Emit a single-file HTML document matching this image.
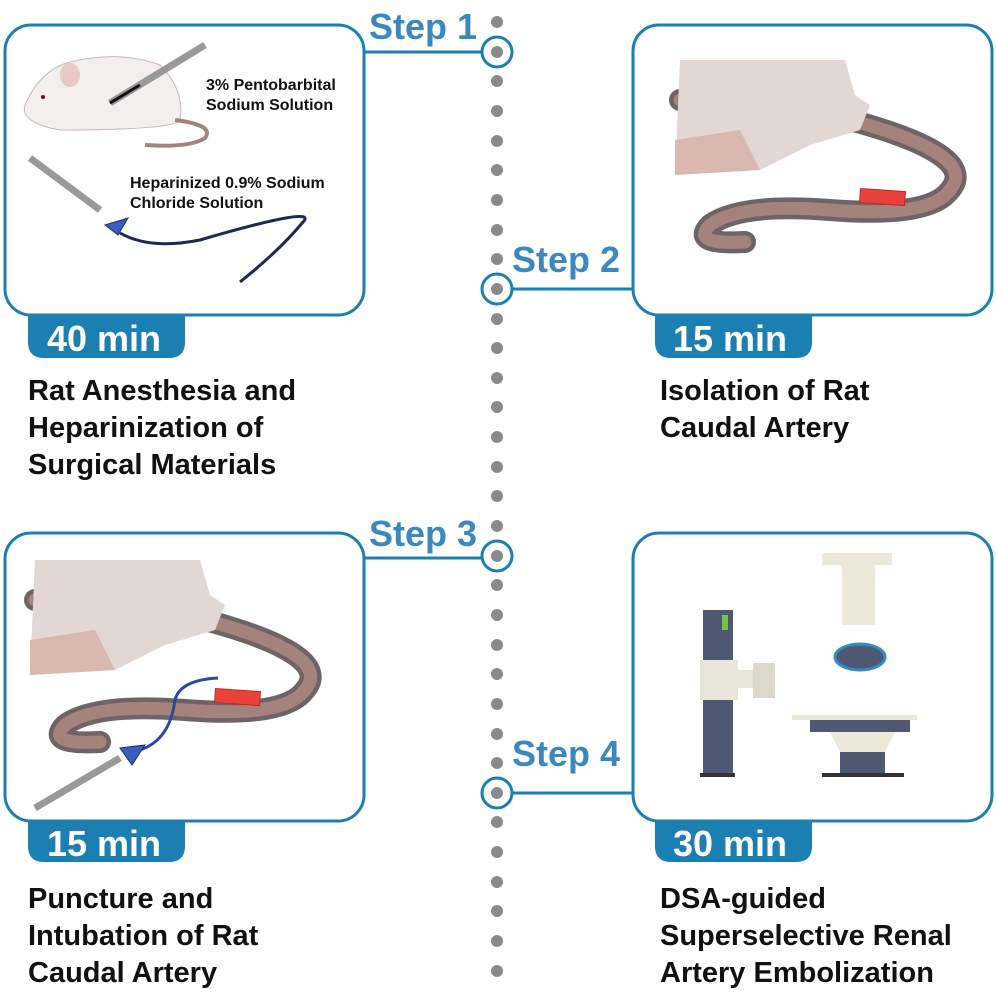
<!DOCTYPE html>
<html><head><meta charset="utf-8"><style>
body{margin:0;background:#fff;}
svg{display:block}
.t{font-family:"Liberation Sans",sans-serif;font-weight:bold}
</style></head><body>
<svg width="996" height="996" viewBox="0 0 996 996" xmlns="http://www.w3.org/2000/svg">
<defs>
<g id="tail">
  <path d="M30,40 L90,38 L95,50 L200,60 Q330,95 300,130 Q280,158 180,150 Q90,143 60,165 Q40,185 95,182" fill="none" stroke="#6e6466" stroke-width="22" stroke-linecap="round"/>
  <path d="M30,40 L90,38 L95,50 L200,60 Q330,95 300,130 Q280,158 180,150 Q90,143 60,165 Q40,185 95,182" fill="none" stroke="#a4837c" stroke-width="13" stroke-linecap="round"/>
  <path d="M30,0 L195,0 L205,35 L220,45 L210,70 L160,85 L110,110 L25,115 Z" fill="#e2d7d2"/>
  <path d="M25,80 L90,70 L110,110 L25,115 Z" fill="#d9b8b0"/>
  <rect x="210" y="130" width="45" height="14" fill="#e8433a" stroke="#c22" transform="rotate(4 232 137)"/>
</g>
</defs>
<g fill="#8a8a8a">
<circle cx="497" cy="22" r="6"/><circle cx="497" cy="52" r="6"/><circle cx="497" cy="81" r="6"/><circle cx="497" cy="111" r="6"/><circle cx="497" cy="141" r="6"/><circle cx="497" cy="170" r="6"/><circle cx="497" cy="200" r="6"/><circle cx="497" cy="230" r="6"/><circle cx="497" cy="259" r="6"/><circle cx="497" cy="289" r="6"/><circle cx="497" cy="319" r="6"/><circle cx="497" cy="348" r="6"/><circle cx="497" cy="378" r="6"/><circle cx="497" cy="407" r="6"/><circle cx="497" cy="437" r="6"/><circle cx="497" cy="467" r="6"/><circle cx="497" cy="496" r="6"/><circle cx="497" cy="526" r="6"/><circle cx="497" cy="556" r="6"/><circle cx="497" cy="585" r="6"/><circle cx="497" cy="615" r="6"/><circle cx="497" cy="645" r="6"/><circle cx="497" cy="674" r="6"/><circle cx="497" cy="704" r="6"/><circle cx="497" cy="734" r="6"/><circle cx="497" cy="763" r="6"/><circle cx="497" cy="793" r="6"/><circle cx="497" cy="822" r="6"/><circle cx="497" cy="852" r="6"/><circle cx="497" cy="882" r="6"/><circle cx="497" cy="911" r="6"/><circle cx="497" cy="941" r="6"/><circle cx="497" cy="971" r="6"/>
</g>
<g fill="none" stroke="#1b7fb2" stroke-width="3">
<circle cx="497" cy="52" r="15"/><circle cx="497" cy="289" r="15"/><circle cx="497" cy="556" r="15"/><circle cx="497" cy="793" r="15"/>
<line x1="364" y1="52" x2="482" y2="52"/><line x1="512" y1="289" x2="633" y2="289"/>
<line x1="364" y1="558" x2="482" y2="558"/><line x1="512" y1="793" x2="633" y2="793"/>
<rect x="5" y="25" width="359" height="290" rx="26"/>
<rect x="633" y="25" width="359" height="290" rx="26"/>
<rect x="5" y="533" width="359" height="288" rx="26"/>
<rect x="633" y="533" width="359" height="288" rx="26"/>
</g>
<g fill="#1b7fb2">
<path d="M28,315 H185 V342 Q185,358 169,358 H44 Q28,358 28,342 Z"/>
<path d="M655,315 H812 V342 Q812,358 796,358 H671 Q655,358 655,342 Z"/>
<path d="M28,821 H185 V846 Q185,862 169,862 H44 Q28,862 28,846 Z"/>
<path d="M655,821 H812 V846 Q812,862 796,862 H671 Q655,862 655,846 Z"/>
</g>
<g class="t" fill="#fff" font-size="36">
<text x="47" y="351">40 min</text><text x="673" y="351">15 min</text>
<text x="47" y="856">15 min</text><text x="673" y="856">30 min</text>
</g>
<g class="t" fill="#3a88c0" font-size="36">
<text x="369" y="39">Step 1</text><text x="512" y="272">Step 2</text>
<text x="369" y="546">Step 3</text><text x="512" y="766">Step 4</text>
</g>
<g class="t" fill="#111" font-size="29">
<text x="28" y="400">Rat Anesthesia and</text><text x="28" y="437">Heparinization of</text><text x="28" y="474">Surgical Materials</text>
<text x="660" y="400">Isolation of Rat</text><text x="660" y="437">Caudal Artery</text>
<text x="28" y="908">Puncture and</text><text x="28" y="945">Intubation of Rat</text><text x="28" y="982">Caudal Artery</text>
<text x="660" y="908">DSA-guided</text><text x="660" y="945">Superselective Renal</text><text x="660" y="982">Artery Embolization</text>
</g>
<path d="M25,105 Q40,70 70,62 Q120,50 160,65 Q185,90 180,120 Q175,130 60,130 L50,128 Q20,120 25,105Z" fill="#f3efee" stroke="#c9b8b6"/>
<ellipse cx="70" cy="75" rx="10" ry="12" fill="#e8c9c4"/>
<circle cx="43" cy="97" r="2" fill="#7a0a0a"/>
<path d="M175,120 Q215,125 205,138 Q190,148 145,145" fill="none" stroke="#a4837c" stroke-width="4"/>
<line x1="110" y1="103" x2="205" y2="45" stroke="#999" stroke-width="7"/><line x1="110" y1="103" x2="140" y2="85" stroke="#111" stroke-width="3"/>
<text class="t" x="206" y="90" font-size="16" fill="#111">3% Pentobarbital</text>
<text class="t" x="206" y="110" font-size="16" fill="#111">Sodium Solution</text>
<line x1="30" y1="158" x2="100" y2="210" stroke="#999" stroke-width="7"/>
<polygon points="105,225 128,218 118,235" fill="#3a5ec0" stroke="#1a2e6e"/>
<path d="M120,233 Q150,250 200,240 Q320,205 303,222 Q280,250 240,282" fill="none" stroke="#1a2a50" stroke-width="3"/>
<text class="t" x="130" y="188" font-size="16" fill="#111">Heparinized 0.9% Sodium</text>
<text class="t" x="130" y="208" font-size="16" fill="#111">Chloride Solution</text>
<g transform="translate(650,60)"><use href="#tail"/></g>
<g transform="translate(5,560)"><use href="#tail"/></g>
<path d="M218,678 Q180,680 175,700 Q170,740 140,750" fill="none" stroke="#2a4aa0" stroke-width="3"/>
<polygon points="120,748 145,745 132,765" fill="#3a5ec0" stroke="#1a2e6e"/>
<line x1="35" y1="808" x2="120" y2="758" stroke="#999" stroke-width="7"/>
<rect x="703" y="610" width="30" height="165" fill="#4f5873"/><rect x="722" y="615" width="6" height="15" fill="#7ac142"/>
<rect x="700" y="660" width="38" height="40" fill="#e8e4d8"/><rect x="738" y="670" width="20" height="18" fill="#e8e4d8"/><rect x="753" y="663" width="22" height="35" fill="#ddd8cc"/>
<rect x="700" y="773" width="35" height="4" fill="#333"/>
<rect x="822" y="553" width="70" height="12" fill="#ece8da"/><rect x="842" y="565" width="33" height="60" fill="#ece8da"/>
<ellipse cx="860" cy="657" rx="25" ry="13" fill="#4f5873" stroke="#2d8ec6" stroke-width="3"/>
<rect x="792" y="715" width="125" height="5" fill="#ece8da"/><rect x="810" y="720" width="100" height="12" fill="#4f5873"/>
<path d="M830,732 H895 L885,752 H840 Z" fill="#ece8da"/><rect x="840" y="752" width="45" height="22" fill="#4f5873"/><rect x="822" y="773" width="82" height="4" fill="#333"/>
</svg>
</body></html>
